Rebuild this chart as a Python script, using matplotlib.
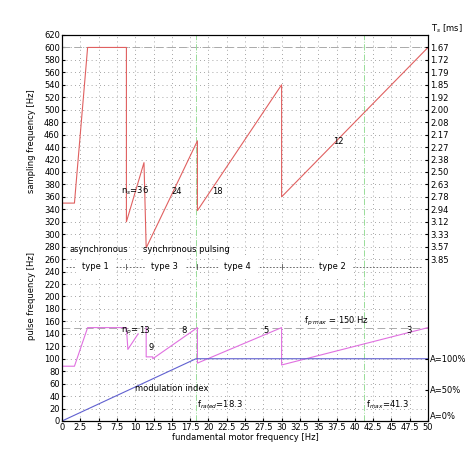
import matplotlib; matplotlib.use("Agg")
import matplotlib.pyplot as plt
import numpy as np

# sampling frequency (red)
fs_x = [0, 1.7, 3.5, 8.8, 8.8, 11.2, 11.2, 11.5, 18.5, 18.5, 30, 30, 50]
fs_y = [350, 350, 600, 600, 320, 415, 415, 278, 450, 338, 540, 360, 600]
# pulse frequency (magenta)
fp_x = [0, 1.7, 3.5, 8.8, 9.0, 10.4, None, 11.5, 11.5, 12.4, 12.4, 18.5, 18.5, 30, 30, 50]
fp_y = [88, 88, 150, 150, 115, 140, None, 150, 103, 103, 100, 150, 93, 150, 90, 150]
# modulation index (blue), scaled to 100 = 100%
mi_x = [0, 18.3, 50]
mi_y = [0, 100, 100]
ts_ticks = list(range(600, 259, -20))
type_labels = [("type 1", 4.5), ("type 3", 14), ("type 4", 24), ("type 2", 37)]
type_bounds = [8.8, 18.5, 30]

fp_x = [np.nan if v is None else v for v in fp_x]
fp_y = [np.nan if v is None else v for v in fp_y]

plt.rcParams.update({"font.size": 6, "font.family": "DejaVu Sans"})
fig = plt.figure(figsize=(4.74, 4.74), dpi=100)
ax = fig.add_axes([62/474, 1-421/474, 366/474, 386/474])
ax.set_xlim(0, 50); ax.set_ylim(0, 620)
ax.set_xticks(np.arange(0, 50.1, 2.5))
ax.set_xticklabels([f"{v:g}" for v in np.arange(0, 50.1, 2.5)])
ax.set_yticks(range(0, 621, 20))
ax.grid(True, ls=(0, (1, 4)), color="#888888", lw=0.6)
ax.tick_params(direction="in", length=2, pad=1.5)

ax.axhline(600, color="#aaaaaa", ls=(0, (8, 4)), lw=0.7)
ax.axhline(150, color="#aaaaaa", ls=(0, (8, 4)), lw=0.7)
for xv in (18.3, 41.3):
    ax.axvline(xv, color="#99dd99", ls="-.", lw=0.7)

ax.plot(fs_x, fs_y, color="#e06060", lw=0.8)
ax.plot(fp_x, fp_y, color="#e070e0", lw=0.8)
ax.plot(mi_x, mi_y, color="#6060d0", lw=0.8)

# type line
ax.plot([0.5, 49], [248, 248], color="#555555", ls=(0, (2, 2)), lw=0.6)
for b in type_bounds:
    ax.plot([b, b], [244, 252], color="#555555", lw=0.6)
for t, xv in type_labels:
    ax.text(xv, 248, t, ha="center", va="center", backgroundcolor="white", fontsize=6)

ax.text(1, 272, "asynchronous", fontsize=6)
ax.text(11, 272, "synchronous pulsing", fontsize=6)
ax.text(8, 365, "n$_s$=36"); ax.text(15, 365, "24"); ax.text(20.5, 365, "18"); ax.text(37, 445, "12")
ax.text(8, 142, "n$_p$="); ax.text(10.5, 142, "13"); ax.text(11.8, 114, "9"); ax.text(16.3, 142, "8")
ax.text(27.5, 142, "5"); ax.text(47, 142, "3")
ax.text(33, 157, "f$_{p\\ max}$ = 150 Hz")
ax.text(10, 48, "modulation index")
ax.text(18.5, 22, "f$_{rated}$=18.3")
ax.text(41.5, 22, "f$_{max}$=41.3")

ax.set_xlabel("fundamental motor frequency [Hz]", labelpad=1)
ax.text(-4.2, 450, "sampling frequency [Hz]", rotation=90, ha="center", va="center")
ax.text(-4.2, 200, "pulse frequency [Hz]", rotation=90, ha="center", va="center")

ax2 = ax.twinx()
ax2.set_ylim(0, 620)
ticks = ts_ticks + [100, 50, 0]
labels = [f"{1000/v:.2f}" for v in ts_ticks] + ["A=100%", "A=50%", "A=0%"]
ax2.set_yticks(ticks); ax2.set_yticklabels(labels)
ax2.tick_params(direction="in", length=2, pad=1.5)
ax2.get_yticklabels()[-1].set_verticalalignment("bottom")
ax2.text(50.4, 625, "T$_s$ [ms]", fontsize=6)

fig.savefig("out.png", dpi=100)
